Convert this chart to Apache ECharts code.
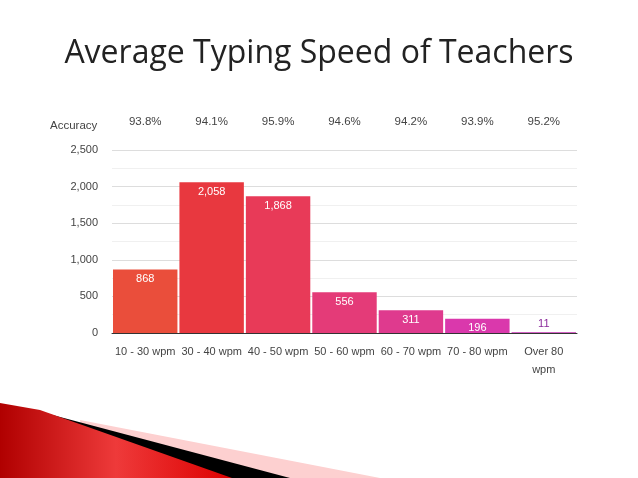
<!DOCTYPE html>
<html><head><meta charset="utf-8">
<script src="https://cdn.jsdelivr.net/npm/echarts@6/dist/echarts.min.js"></script>
<style>html,body{margin:0;padding:0;background:#fff}#c{width:638px;height:478px}</style>
</head><body><div id="c"></div>
<script>
var categories = ['10 - 30 wpm','30 - 40 wpm','40 - 50 wpm','50 - 60 wpm','60 - 70 wpm','70 - 80 wpm','Over 80\nwpm'];
var counts = [868, 2058, 1868, 556, 311, 196, 11];
var accuracy = ['93.8%','94.1%','95.9%','94.6%','94.2%','93.9%','95.2%'];
var colors = ['#ea4e3b','#e8383f','#e83a58','#e43b78','#df3a8e','#da38ac','#c52fb2'];
var yTicks = [0, 500, 1000, 1500, 2000, 2500];

var chart = echarts.init(document.getElementById('c'));
chart.setOption({
  animation:false,
  title:{text:'Average Typing Speed of Teachers',left:'center',top:33,
    textStyle:{fontFamily:'Open Sans',fontSize:32,fontWeight:'normal',color:'#222'}},
  grid:{left:112,right:61,top:150,bottom:145},
  xAxis:[{type:'category',data:categories,axisTick:{show:false},
    axisLine:{lineStyle:{color:'#333'}},
    axisLabel:{color:'#444',fontSize:11,fontFamily:'Arial',margin:10,lineHeight:18,interval:0}},
    {type:'category',data:accuracy,position:'top',offset:14,axisTick:{show:false},axisLine:{show:false},
    axisLabel:{color:'#444',fontSize:11.5,fontFamily:'Arial',interval:0}}],
  yAxis:{type:'value',min:0,max:2500,interval:500,
    axisLabel:{color:'#444',fontSize:11,fontFamily:'Arial',margin:14,
      formatter:function(v){return yTicks.indexOf(v)>=0?v.toLocaleString('en-US'):'';}},
    splitLine:{lineStyle:{color:'#ddd'}},
    minorTick:{show:false,splitNumber:2},minorSplitLine:{show:true,lineStyle:{color:'#f0f0f0'}}},
  series:[{type:'bar',barCategoryGap:'3%',
    data:counts.map(function(v,i){
      return {value:v,itemStyle:{color:colors[i]},
        label: v<100 ? {position:'top',color:'#8b2a9b',distance:3} : {}};
    }),
    label:{show:true,position:'insideTop',color:'#fff',fontSize:11,fontFamily:'Arial',distance:4,
      formatter:function(p){return p.value.toLocaleString('en-US');}}}],
  graphic:[
    {type:'text',left:50,top:120,style:{text:'Accuracy',fontSize:11.5,fontFamily:'Arial',fill:'#444'}},
    {type:'polygon',shape:{points:[[80,420],[380,478],[90,478]]},style:{fill:'#fdd0d0'}},
    {type:'polygon',shape:{points:[[45,413],[290,478],[220,478]]},style:{fill:'#000'}},
    {type:'polygon',shape:{points:[[0,403],[40,410],[232,478],[0,478]]},
      style:{fill:{type:'linear',x:0,y:0,x2:1,y2:0,colorStops:[{offset:0,color:'#b00000'},{offset:0.5,color:'#ee3a3a'},{offset:1,color:'#dd0000'}]}}}
  ]
});
</script></body></html>
